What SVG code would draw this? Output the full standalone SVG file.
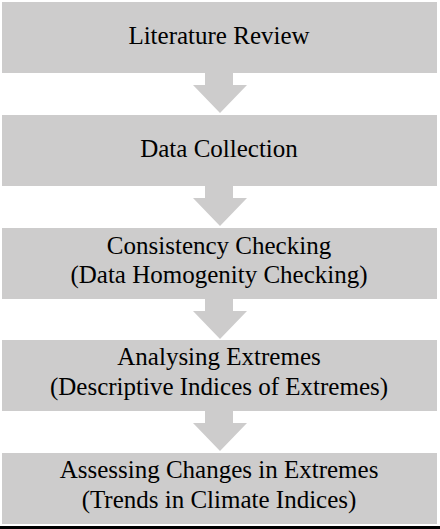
<svg xmlns="http://www.w3.org/2000/svg" width="440" height="529" viewBox="0 0 440 529">
<style>
.box{fill:#cdcccc}
.arr{fill:#cdcccc}
text{font-family:"Liberation Serif","Times New Roman",serif;font-size:25px;fill:#000;text-anchor:middle}
</style>
<rect x="0" y="0" width="440" height="529" fill="#ffffff"/>
<g id="connectors">
<polygon class="arr" points="205,73 233,73 233,85 247,85 220,113 193,85 205,85"/>
<polygon class="arr" points="205,186 233,186 233,198 247,198 220,226 193,198 205,198"/>
<polygon class="arr" points="205,299 233,299 233,311 247,311 220,339 193,311 205,311"/>
<polygon class="arr" points="205,411 233,411 233,423 247,423 220,451 193,423 205,423"/>
</g>
<g id="n1"><rect class="box" x="2" y="2" width="435" height="71"/><text x="219" y="44">Literature Review</text></g>
<g id="n2"><rect class="box" x="2" y="115" width="435" height="71"/><text x="219" y="157">Data Collection</text></g>
<g id="n3"><rect class="box" x="2" y="228" width="435" height="71"/><text x="219" y="254">Consistency Checking</text><text x="219" y="283">(Data Homogenity Checking)</text></g>
<g id="n4"><rect class="box" x="2" y="340" width="435" height="71"/><text x="219" y="365">Analysing Extremes</text><text x="219" y="395">(Descriptive  Indices of Extremes)</text></g>
<g id="n5"><rect class="box" x="2" y="453" width="435" height="71"/><text x="219" y="478">Assessing Changes in Extremes</text><text x="219" y="508">(Trends in Climate Indices)</text></g>
<rect x="0" y="526" width="440" height="3" fill="#000"/>
</svg>
